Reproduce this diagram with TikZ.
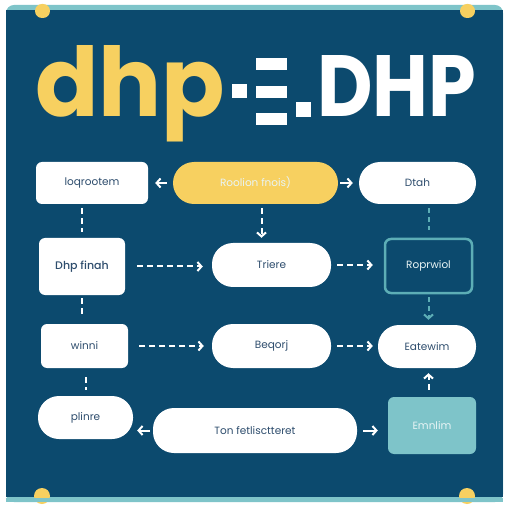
\documentclass[tikz,border=0pt]{standalone}
\usepackage{fontspec}
\setmainfont{Poppins}
\usetikzlibrary{arrows.meta}
\definecolor{bgblue}{HTML}{0C4A6E}
\definecolor{accyel}{HTML}{F7D060}
\definecolor{accteal}{HTML}{7EC4C9}
\definecolor{txtblue}{HTML}{2E4D6D}
\definecolor{ropline}{HTML}{5DAEB6}
\definecolor{lighttxt}{HTML}{E8F4F5}
\tikzset{
  basebox/.style={inner sep=0pt, font=\fontsize{10.5}{12}\selectfont, text=txtblue},
  rbox/.style={basebox, fill=white, rounded corners=6pt},
  pill/.style={basebox, fill=white, rounded corners=21pt},
  dashln/.style={draw=white, line width=2pt, dash pattern=on 6pt off 4pt},
  dashteal/.style={draw=ropline, line width=2pt, dash pattern=on 5pt off 4pt},
  barb/.style={-{Straight Barb[length=4pt,width=9pt]}},
  solidarr/.style={draw=white, line width=2pt, -{Straight Barb[length=4pt,width=9pt]}},
}
\begin{document}
\begin{tikzpicture}[x=1pt,y=-1pt]
\useasboundingbox (0,0) rectangle (516,510);
\fill[white] (0,0) rectangle (516,510);
% panel
\fill[accteal, rounded corners=8pt] (6,5) rectangle (503,502);
\fill[bgblue] (6,10) rectangle (503,497);
% dots
\fill[accyel, rounded corners=7pt] (35,4) rectangle (50,18);
\fill[accyel, rounded corners=7pt] (460,4) rectangle (475,18);
\fill[accyel] (42,496) circle (8);
\fill[accyel] (467,496) circle (8);
\fill[accteal] (6,498) rectangle (503,502);
% title
\node[anchor=base west, inner sep=0pt, text=accyel, font=\bfseries] (tdhp) at (35,117) {\resizebox{190pt}{71pt}{dhp}};
\node[anchor=base west, inner sep=0pt, text=white, font=\bfseries] (tDHP) at (317,117) {\resizebox{159pt}{61pt}{DHP}};
\fill[white] (232,84) rectangle (247,98);
\fill[white] (256,58) rectangle (287,70);
\fill[white] (256,86) rectangle (287,98);
\fill[white] (256,113) rectangle (287,125);
\fill[white] (296,102) rectangle (311,117);
% nodes
\node[rbox, minimum width=112pt, minimum height=42pt] (loq) at (92,183) {loqrootem};
\node[pill, fill=accyel, text=lighttxt, minimum width=165pt, minimum height=42pt] (yel) at (255.5,183) {Roolion fnois)};
\node[pill, minimum width=117pt, minimum height=42pt] (dtah) at (417.5,183) {Dtah};
\node[rbox, minimum width=86pt, minimum height=57pt, font=\fontsize{11}{12}\selectfont\fontspec{Poppins Medium}] (dhp) at (82,266.5) {Dhp finah};
\node[pill, minimum width=119pt, minimum height=44pt] (tri) at (271.5,265) {Triere};
\node[basebox, draw=ropline, line width=2.5pt, rounded corners=6pt, text=lighttxt, minimum width=87pt, minimum height=54pt] (rop) at (428.5,266) {Roprwiol};
\node[rbox, minimum width=87pt, minimum height=44pt] (win) at (84.5,346) {winni};
\node[pill, minimum width=119pt, minimum height=44pt] (beq) at (271.5,346) {Beqorj};
\node[pill, minimum width=98pt, minimum height=43pt] (eat) at (427,346.5) {Eatewim};
\node[pill, minimum width=95pt, minimum height=43pt] (pli) at (85.5,417.5) {plinre};
\node[pill, minimum width=204pt, minimum height=45pt] (ton) at (255,430.5) {Ton fetlisctteret};
\node[basebox, fill=accteal, rounded corners=6pt, text=lighttxt, minimum width=88pt, minimum height=57pt] (emn) at (432,425.5) {Emnlim};
% connectors
\draw[solidarr, shorten <=6pt, shorten >=7pt] (yel.west) -- (loq.east);
\draw[solidarr, shorten <=2pt, shorten >=6pt] (yel.east) -- (dtah.west);
\draw[dashln, shorten <=4pt, shorten >=6pt] (dhp.north |- loq.south) -- (dhp.north);
\draw[dashln, barb, shorten <=4pt, shorten >=5pt] ([xshift=6pt]yel.south) -- ([xshift=6pt]yel.south |- tri.north);
\draw[dashteal, shorten <=4pt, shorten >=8pt] (rop.north |- dtah.south) -- (rop.north);
\draw[dashln, barb, shorten <=12pt, shorten >=9pt] (dhp.east) -- (dhp.east -| tri.west);
\draw[dashln, barb, shorten <=6pt, shorten >=11pt] (tri.east) -- (tri.east -| rop.west);
\draw[dashln, shorten <=3pt, shorten >=6pt] (dhp.south) -- (dhp.south |- win.north);
\draw[dashln, barb, shorten <=11pt, shorten >=8pt] (win.east) -- (win.east -| beq.west);
\draw[dashln, barb, shorten <=6pt, shorten >=5pt] (beq.east) -- (beq.east -| eat.west);
\draw[dashteal, barb, shorten <=3pt, shorten >=5pt] (rop.south) -- (rop.south |- eat.north);
\draw[dashln, shorten <=9pt, shorten >=6pt] ([xshift=1pt]win.south) -- ([xshift=1pt]win.south |- pli.north);
\draw[solidarr, shorten <=3pt, shorten >=4pt] (ton.west) -- (ton.west -| pli.east);
\draw[solidarr, shorten <=6pt, shorten >=10pt] (ton.east) -- (ton.east -| emn.west);
\draw[dashln, draw=white, barb, shorten <=7pt, shorten >=5pt] (rop.south |- emn.north) -- (rop.south |- eat.south);
\end{tikzpicture}
\end{document}
